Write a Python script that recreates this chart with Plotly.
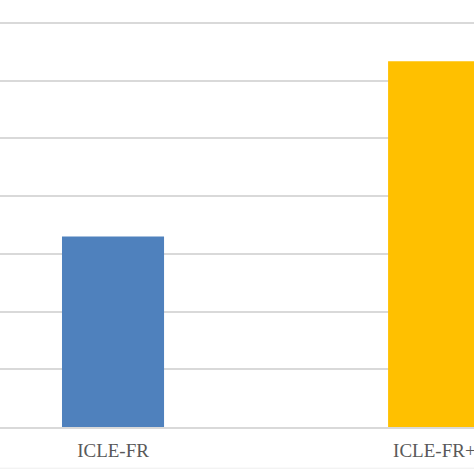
import plotly.graph_objects as go

# valori (scala asse y non visibile, passo griglia = 10)
categories = ['ICLE-FR', 'ICLE-FR+2']
values = [33.0, 63.4]
bar_colors = ['#4F81BD', '#FFC000']

fig = go.Figure()
fig.add_trace(go.Bar(
    x=categories,
    y=values,
    marker=dict(color=bar_colors, line_width=0),
    width=0.313,
    showlegend=False,
    hoverinfo='x+y'
))

fig.update_layout(
    width=474,
    height=474,
    autosize=False,
    margin=dict(l=0, r=0, t=0, b=47, pad=0),
    paper_bgcolor='white',
    plot_bgcolor='white',
    font=dict(family='Liberation Serif, Times New Roman, serif', size=19, color='#595959'),
    xaxis=dict(
        type='category',
        range=[-0.3466, 1.107],
        automargin=False,
        showgrid=False,
        showline=True,
        linecolor='#D9D9D9',
        linewidth=1.5,
        ticks='outside',
        ticklen=5,
        tickcolor='rgba(0,0,0,0)',
        zeroline=False
    ),
    yaxis=dict(
        range=[0, 74],
        dtick=10,
        automargin=False,
        showticklabels=False,
        showgrid=True,
        gridcolor='#D9D9D9',
        gridwidth=1.5,
        zeroline=False
    ),
    shapes=[dict(
        type='line', xref='paper', yref='paper',
        x0=0, x1=1, y0=-0.0965, y1=-0.0965,
        line=dict(color='#EEEEEE', width=1)
    )]
)

# niente margine né barre di scorrimento nella pagina
fig.write_html(
    "out.html",
    config={'displayModeBar': False, 'responsive': False},
    post_script="document.body.style.margin='0';document.body.style.overflow='hidden';"
)
